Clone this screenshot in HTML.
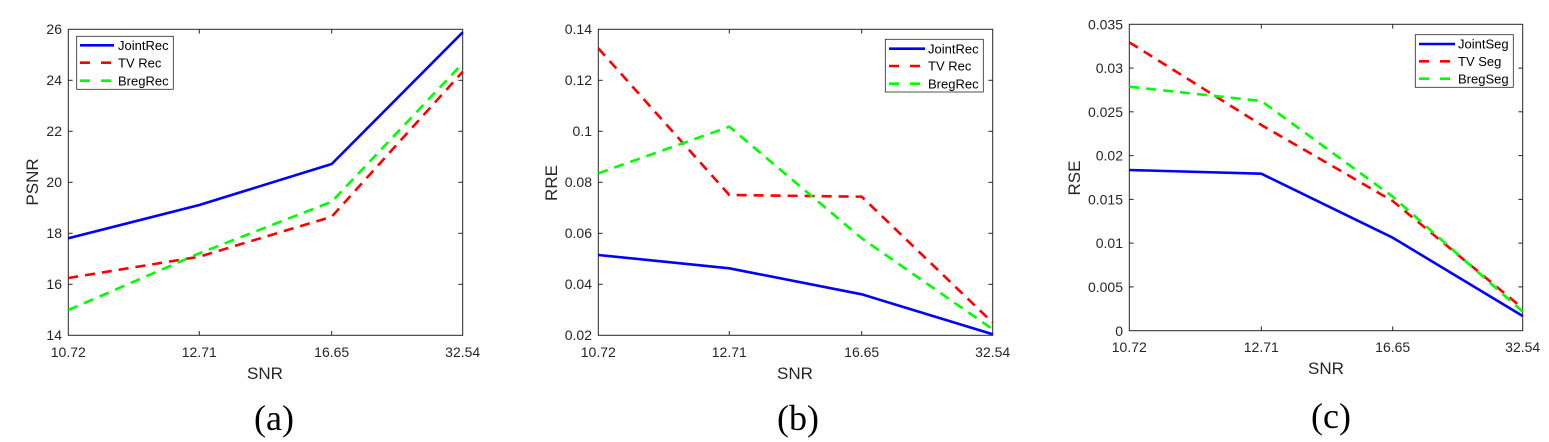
<!DOCTYPE html>
<html><head><meta charset="utf-8"><style>
html,body{margin:0;padding:0;background:#fff;}
svg{display:block;}
text{font-family:"Liberation Sans",sans-serif;fill:#262626;}
.t{font-size:14px;}
.l{font-size:13px;fill:#000;}
.ax{font-size:17px;}
.cap{font-family:"Liberation Serif",serif;font-size:36px;fill:#000;}
.s{fill:none;stroke-width:2.6;stroke-linejoin:round;}
.d{stroke-dasharray:10,7;}
</style></head><body>
<svg width="1549" height="442" viewBox="0 0 1549 442" xmlns="http://www.w3.org/2000/svg">
<!-- Panel a -->
<g>
<rect x="68.3" y="29.3" width="394.4" height="306" fill="none" stroke="#262626" stroke-width="1"/>
<g stroke="#262626" stroke-width="1">
<line x1="199.3" y1="335.3" x2="199.3" y2="331"/><line x1="331.7" y1="335.3" x2="331.7" y2="331"/>
<line x1="199.3" y1="29.3" x2="199.3" y2="33.6"/><line x1="331.7" y1="29.3" x2="331.7" y2="33.6"/>
<line x1="68.3" y1="284.3" x2="72.6" y2="284.3"/><line x1="68.3" y1="233.3" x2="72.6" y2="233.3"/><line x1="68.3" y1="182.3" x2="72.6" y2="182.3"/><line x1="68.3" y1="131.3" x2="72.6" y2="131.3"/><line x1="68.3" y1="80.3" x2="72.6" y2="80.3"/>
<line x1="462.7" y1="284.3" x2="458.4" y2="284.3"/><line x1="462.7" y1="233.3" x2="458.4" y2="233.3"/><line x1="462.7" y1="182.3" x2="458.4" y2="182.3"/><line x1="462.7" y1="131.3" x2="458.4" y2="131.3"/><line x1="462.7" y1="80.3" x2="458.4" y2="80.3"/>
</g>
<g class="t" text-anchor="end">
<text x="62" y="340">14</text><text x="62" y="289">16</text><text x="62" y="238">18</text><text x="62" y="187">20</text><text x="62" y="136">22</text><text x="62" y="85">24</text><text x="62" y="34">26</text>
</g>
<g class="t" text-anchor="middle">
<text x="68.3" y="357">10.72</text><text x="199.3" y="357">12.71</text><text x="331.7" y="357">16.65</text><text x="462.7" y="357">32.54</text>
</g>
<text class="ax" x="265" y="379" text-anchor="middle">SNR</text>
<text class="ax" transform="translate(38,182) rotate(-90)" text-anchor="middle">PSNR</text>
<polyline class="s" stroke="#0000ff" points="68.3,238.3 199.3,205 331.7,164 462.7,32.3"/>
<polyline class="s d" stroke="#ff0000" points="68.3,278 199.3,256.7 331.7,216.7 462.7,71.7"/>
<polyline class="s d" stroke="#00ff00" points="68.3,310 199.3,253.3 331.7,201.7 462.7,63.3"/>
<rect x="76.7" y="36.3" width="96.6" height="53" fill="#fff" stroke="#262626" stroke-width="0.8"/>
<line x1="80" y1="45.3" x2="114" y2="45.3" stroke="#0000ff" stroke-width="2.6"/>
<line x1="80" y1="62.7" x2="114" y2="62.7" stroke="#ff0000" stroke-width="2.6" stroke-dasharray="10,11"/>
<line x1="80" y1="80.7" x2="114" y2="80.7" stroke="#00ff00" stroke-width="2.6" stroke-dasharray="10,11"/>
<text class="l" x="118" y="50">JointRec</text><text class="l" x="118" y="67.4">TV Rec</text><text class="l" x="118" y="85.4">BregRec</text>
<text class="cap" x="274" y="430" text-anchor="middle">(a)</text>
</g>
<!-- Panel b -->
<g>
<rect x="598.3" y="29.3" width="394.4" height="306" fill="none" stroke="#262626" stroke-width="1"/>
<g stroke="#262626" stroke-width="1">
<line x1="729.3" y1="335.3" x2="729.3" y2="331"/><line x1="861.7" y1="335.3" x2="861.7" y2="331"/>
<line x1="729.3" y1="29.3" x2="729.3" y2="33.6"/><line x1="861.7" y1="29.3" x2="861.7" y2="33.6"/>
<line x1="598.3" y1="284.3" x2="602.6" y2="284.3"/><line x1="598.3" y1="233.3" x2="602.6" y2="233.3"/><line x1="598.3" y1="182.3" x2="602.6" y2="182.3"/><line x1="598.3" y1="131.3" x2="602.6" y2="131.3"/><line x1="598.3" y1="80.3" x2="602.6" y2="80.3"/>
<line x1="992.7" y1="284.3" x2="988.4" y2="284.3"/><line x1="992.7" y1="233.3" x2="988.4" y2="233.3"/><line x1="992.7" y1="182.3" x2="988.4" y2="182.3"/><line x1="992.7" y1="131.3" x2="988.4" y2="131.3"/><line x1="992.7" y1="80.3" x2="988.4" y2="80.3"/>
</g>
<g class="t" text-anchor="end">
<text x="592" y="340">0.02</text><text x="592" y="289">0.04</text><text x="592" y="238">0.06</text><text x="592" y="187">0.08</text><text x="592" y="136">0.1</text><text x="592" y="85">0.12</text><text x="592" y="34">0.14</text>
</g>
<g class="t" text-anchor="middle">
<text x="598.3" y="357">10.72</text><text x="729.3" y="357">12.71</text><text x="861.7" y="357">16.65</text><text x="992.7" y="357">32.54</text>
</g>
<text class="ax" x="795" y="379" text-anchor="middle">SNR</text>
<text class="ax" transform="translate(557,183) rotate(-90)" text-anchor="middle">RRE</text>
<polyline class="s" stroke="#0000ff" points="598.3,255 729.3,268.3 861.7,294.3 992.7,334.3"/>
<polyline class="s d" stroke="#ff0000" points="598.3,48.3 729.3,195 861.7,196.7 992.7,322.7"/>
<polyline class="s d" stroke="#00ff00" points="598.3,173.3 729.3,126.7 861.7,238.3 992.7,329.3"/>
<rect x="885.3" y="39.3" width="98" height="52.7" fill="#fff" stroke="#262626" stroke-width="0.8"/>
<line x1="889" y1="48.7" x2="925" y2="48.7" stroke="#0000ff" stroke-width="2.6"/>
<line x1="889" y1="66" x2="925" y2="66" stroke="#ff0000" stroke-width="2.6" stroke-dasharray="10,11"/>
<line x1="889" y1="83.7" x2="925" y2="83.7" stroke="#00ff00" stroke-width="2.6" stroke-dasharray="10,11"/>
<text class="l" x="928" y="53.4">JointRec</text><text class="l" x="928" y="70.7">TV Rec</text><text class="l" x="928" y="88.4">BregRec</text>
<text class="cap" x="798" y="430" text-anchor="middle">(b)</text>
</g>
<!-- Panel c -->
<g>
<rect x="1129.3" y="24.3" width="393.4" height="306.4" fill="none" stroke="#262626" stroke-width="1"/>
<g stroke="#262626" stroke-width="1">
<line x1="1261.3" y1="330.7" x2="1261.3" y2="326.4"/><line x1="1392.7" y1="330.7" x2="1392.7" y2="326.4"/>
<line x1="1261.3" y1="24.3" x2="1261.3" y2="28.6"/><line x1="1392.7" y1="24.3" x2="1392.7" y2="28.6"/>
<line x1="1129.3" y1="286.9" x2="1133.6" y2="286.9"/><line x1="1129.3" y1="243.1" x2="1133.6" y2="243.1"/><line x1="1129.3" y1="199.4" x2="1133.6" y2="199.4"/><line x1="1129.3" y1="155.6" x2="1133.6" y2="155.6"/><line x1="1129.3" y1="111.8" x2="1133.6" y2="111.8"/><line x1="1129.3" y1="68.1" x2="1133.6" y2="68.1"/>
<line x1="1522.7" y1="286.9" x2="1518.4" y2="286.9"/><line x1="1522.7" y1="243.1" x2="1518.4" y2="243.1"/><line x1="1522.7" y1="199.4" x2="1518.4" y2="199.4"/><line x1="1522.7" y1="155.6" x2="1518.4" y2="155.6"/><line x1="1522.7" y1="111.8" x2="1518.4" y2="111.8"/><line x1="1522.7" y1="68.1" x2="1518.4" y2="68.1"/>
</g>
<g class="t" text-anchor="end">
<text x="1123" y="336">0</text><text x="1123" y="292">0.005</text><text x="1123" y="248">0.01</text><text x="1123" y="204.5">0.015</text><text x="1123" y="160.7">0.02</text><text x="1123" y="117">0.025</text><text x="1123" y="73">0.03</text><text x="1123" y="29.5">0.035</text>
</g>
<g class="t" text-anchor="middle">
<text x="1129.3" y="352">10.72</text><text x="1261.3" y="352">12.71</text><text x="1392.7" y="352">16.65</text><text x="1522.7" y="352">32.54</text>
</g>
<text class="ax" x="1326" y="374" text-anchor="middle">SNR</text>
<text class="ax" transform="translate(1080,178) rotate(-90)" text-anchor="middle">RSE</text>
<polyline class="s" stroke="#0000ff" points="1129.3,170 1261.3,173.7 1392.7,237.7 1522.7,316"/>
<polyline class="s d" stroke="#ff0000" points="1129.3,42.3 1261.3,125 1392.7,201 1522.7,308.3"/>
<polyline class="s d" stroke="#00ff00" points="1129.3,86.7 1261.3,101 1392.7,196.7 1522.7,311.7"/>
<rect x="1415.3" y="34.7" width="98" height="52.6" fill="#fff" stroke="#262626" stroke-width="0.8"/>
<line x1="1419" y1="44" x2="1455" y2="44" stroke="#0000ff" stroke-width="2.6"/>
<line x1="1419" y1="61.3" x2="1455" y2="61.3" stroke="#ff0000" stroke-width="2.6" stroke-dasharray="10,11"/>
<line x1="1419" y1="78.7" x2="1455" y2="78.7" stroke="#00ff00" stroke-width="2.6" stroke-dasharray="10,11"/>
<text class="l" x="1458" y="48.7">JointSeg</text><text class="l" x="1458" y="66">TV Seg</text><text class="l" x="1458" y="83.4">BregSeg</text>
<text class="cap" x="1331" y="428" text-anchor="middle">(c)</text>
</g>
</svg>
</body></html>
